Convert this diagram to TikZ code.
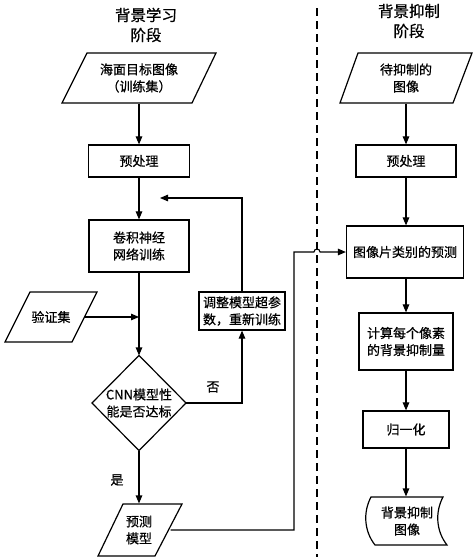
\documentclass[tikz,border=0pt]{standalone}
\usepackage{fontspec}
\setmainfont{Noto Sans CJK SC}[FakeBold=0.6]
\usetikzlibrary{arrows.meta}
\begin{document}
\begin{tikzpicture}[x=1pt,y=-1pt, line width=1.1pt,
  box/.style={draw, line width=1.2pt, inner sep=0pt, align=center, font=\fontsize{13}{17}\selectfont},
  txt/.style={inner sep=0pt, align=center, font=\fontsize{13}{17}\selectfont},
  ttl/.style={inner sep=0pt, align=center, font=\fontsize{15.5}{20}\selectfont},
  outline/.style={draw, line width=1.2pt},
  arr/.style={-{Triangle[length=8pt,width=6.5pt]}},
]
\useasboundingbox (0,0) rectangle (474,557);
\fill[white] (0,0) rectangle (474,557);

% titles
\node[ttl] (t1) at (146,25) {背景学习\\阶段};
\node[ttl] (t2) at (409,21) {背景抑制\\阶段};

% separator
\draw[dash pattern=on 8pt off 5pt, line width=1.1pt] (317,8) -- (317,557);

% left column
\node[txt, minimum width=100pt, minimum height=50pt] (p1) at (139,78) {海面目标图像\\（训练集）};
\draw[outline] (87,53) -- (216,53) -- (192,103) -- (62,103) -- cycle;

\node[box, minimum width=101pt, minimum height=32pt] (b1) at (139,161) {预处理};
\node[box, minimum width=100pt, minimum height=52pt] (b2) at (139,246) {卷积神经\\网络训练};
\node[box, minimum width=86pt, minimum height=38pt] (b3) at (242,311) {调整模型超参\\数，重新训练};

\node[txt, minimum width=67pt, minimum height=50pt] (p2) at (51,317) {验证集};
\draw[outline] (30,292) -- (97,292) -- (72,342) -- (5,342) -- cycle;

\node[txt, minimum width=93pt, minimum height=94pt] (d) at (139,403) {CNN模型性\\能是否达标};
\draw[outline] (d.north) -- (d.east) -- (d.south) -- (d.west) -- cycle;

\node[txt, minimum width=62pt, minimum height=52pt] (p3) at (139,530) {预测\\模型};
\draw[outline] (123,504) -- (182,504) -- (155,556) -- (98,556) -- cycle;

% right column
\node[txt, minimum width=100pt, minimum height=50pt] (p4) at (406,78) {待抑制的\\图像};
\draw[outline] (358,53) -- (472,53) -- (453,103) -- (340,103) -- cycle;

\node[box, minimum width=100pt, minimum height=32pt] (b4) at (406,161) {预处理};
\node[box, minimum width=117pt, minimum height=52pt] (b5) at (405,252) {图像片类别的预测};
\node[box, minimum width=94pt, minimum height=57pt] (b6) at (406,341.5) {计算每个像素\\的背景抑制量};
\node[box, minimum width=86pt, minimum height=37pt] (b7) at (406,429.5) {归一化};

\node[txt, minimum width=70pt, minimum height=48pt] (s) at (407,521) {背景抑制\\图像};
\draw[outline] (371,497) -- (443,497) .. controls (435,512) and (436,531) .. (447,545)
  -- (375,545) .. controls (364,531) and (363,512) .. (371,497) -- cycle;

% labels
\node[txt] (no) at (213,387) {否};
\node[txt] (yes) at (117,480) {是};

% connectors left
\draw[arr] (p1.south) -- (b1.north);
\draw[arr] (b1.south) -- (b2.north);
\draw[arr] (b2.south) -- (d.north);
\coordinate (j) at (139,317);
\draw[arr] (p2.east) -- (j);
\draw[arr] (d.east) -| (b3.south);
\coordinate (fb) at (160,198);
\draw[arr] (b3.north) |- (fb);
\draw[arr] (d.south) -- (p3.north);

% long connector with jump
\coordinate (c1) at (294,530);
\coordinate (c2) at (294,252);
\draw[arr] (p3.east) -- (c1) -- (c2) -- (314,252) arc[start angle=180, end angle=360, radius=3] -- (b5.west);

% connectors right
\draw[arr] (p4.south) -- (b4.north);
\draw[arr] (b4.south) -- (b4.south |- b5.north);
\draw[arr] (b6.north |- b5.south) -- (b6.north);
\draw[arr] (b6.south) -- (b7.north);
\draw[arr] (b7.south) -- (b7.south |- s.north);
\end{tikzpicture}
\end{document}
